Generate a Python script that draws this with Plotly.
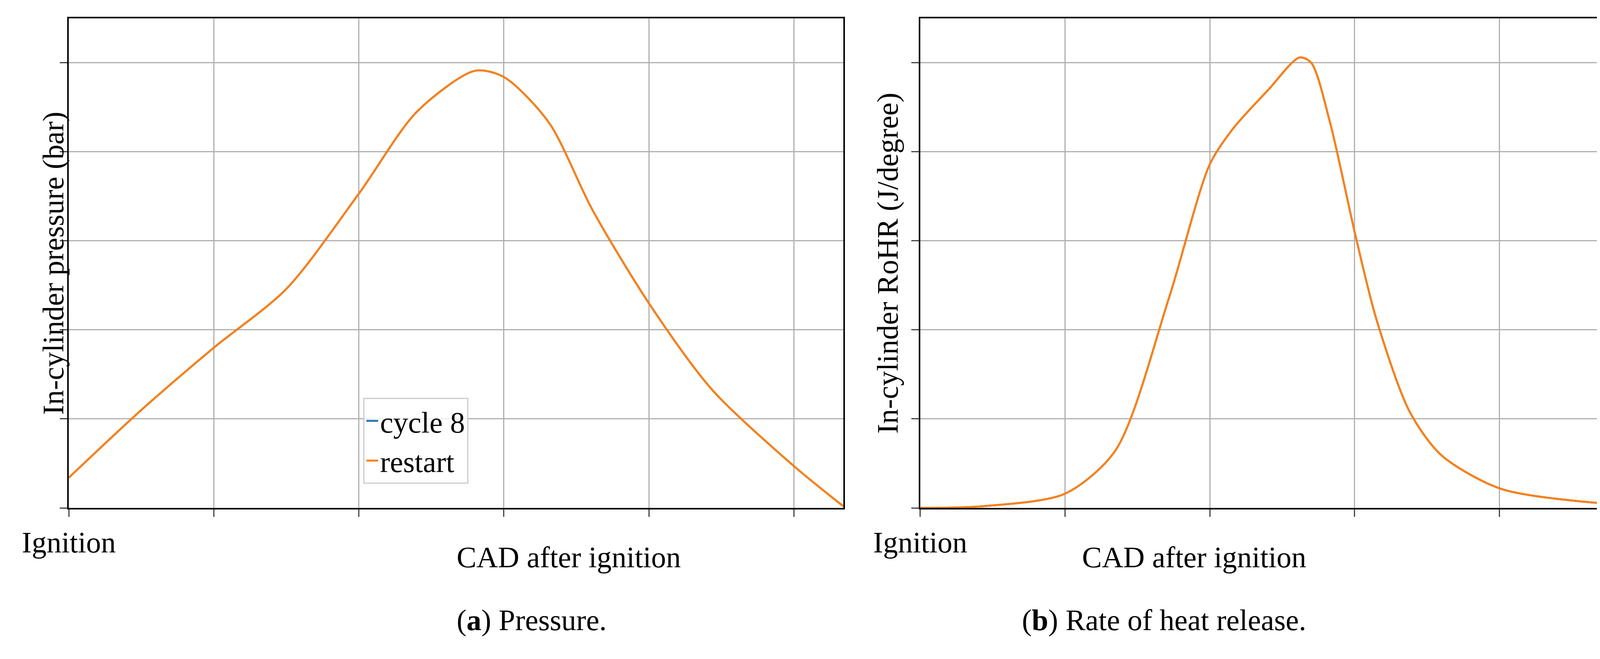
import plotly.graph_objects as go

# Pressure panel, x in tick units after ignition
p_cad = [0, 0.5, 1, 1.5, 2, 2.4, 2.8, 3, 3.31, 3.61, 4, 4.44, 5, 5.34]
p_val = [0.34, 1.1, 1.8, 2.46, 3.53, 4.45, 4.91, 4.84, 4.33, 3.35, 2.30, 1.32, 0.47, 0.02]

# Rate of heat release panel
r_cad = [0, 0.44, 1, 1.35, 1.72, 2, 2.16, 2.4, 2.62, 2.7, 2.83, 3, 3.15, 3.38, 3.6, 4, 4.58, 5.33]
r_val = [0, 0.02, 0.16, 0.65, 2.37, 3.86, 4.26, 4.69, 5.06, 5.0, 4.33, 3.1, 2.12, 1.08, 0.59, 0.22, 0.07, 0.01]

tick_pos = [0, 1, 2, 3, 4, 5]
tick_text = ["Ignition", "", "", "", "", ""]
y_ticks = [0, 1, 2, 3, 4, 5]

orange = "#ff7f0e"
blue = "#1f77b4"
font = "Liberation Serif"
fs = 76

fig = go.Figure()
# cycle 8 hidden under restart
fig.add_trace(go.Scatter(x=p_cad, y=p_val, mode="lines", name="cycle 8",
                         line=dict(color=blue, width=5, shape="spline", smoothing=0.8), xaxis="x", yaxis="y"))
fig.add_trace(go.Scatter(x=p_cad, y=p_val, mode="lines", name="restart",
                         line=dict(color=orange, width=5, shape="spline", smoothing=0.8), xaxis="x", yaxis="y"))
fig.add_trace(go.Scatter(x=r_cad, y=r_val, mode="lines", showlegend=False,
                         line=dict(color=blue, width=5, shape="spline", smoothing=0.8), xaxis="x2", yaxis="y2"))
fig.add_trace(go.Scatter(x=r_cad, y=r_val, mode="lines", showlegend=False,
                         line=dict(color=orange, width=5, shape="spline", smoothing=0.8), xaxis="x2", yaxis="y2"))

xax = dict(range=[0, 5.34], tickvals=tick_pos, ticktext=tick_text, ticks="outside", ticklen=19,
           tickwidth=3, showgrid=True, gridcolor="#b0b0b0", gridwidth=3, zeroline=False,
           showline=True, linecolor="black", linewidth=4, mirror=True,
           tickfont=dict(size=fs, color="black"))
yax = dict(range=[0, 5.5], tickvals=y_ticks, ticktext=[""] * 6, ticks="outside", ticklen=19,
           tickwidth=3, showgrid=True, gridcolor="#b0b0b0", gridwidth=3, zeroline=False,
           showline=True, linecolor="black", linewidth=4, mirror=True)

fig.update_layout(
    width=4380, height=1688,
    margin=dict(l=0, r=0, t=0, b=0, autoexpand=False),
    plot_bgcolor="white", paper_bgcolor="white",
    font=dict(family=font, size=fs, color="black"),
    xaxis=dict(xax, domain=[0.0384, 0.491], anchor="y"),
    yaxis=dict(yax, domain=[0.234, 0.977], anchor="x"),
    xaxis2=dict(xax, domain=[0.536, 0.988], anchor="y2"),
    yaxis2=dict(yax, domain=[0.234, 0.977], anchor="x2"),
    legend=dict(x=0.2105, y=0.401, xanchor="left", yanchor="top",
                bordercolor="#cccccc", borderwidth=3, bgcolor="rgba(255,255,255,0.8)",
                font=dict(size=fs), tracegroupgap=0),
    annotations=[
        dict(text="CAD after ignition", x=0.2647, y=1 - 1463 / 1688, xref="paper", yref="paper",
             showarrow=False, font=dict(size=fs)),
        dict(text="CAD after ignition", x=0.762, y=1 - 1463 / 1688, xref="paper", yref="paper",
             showarrow=False, font=dict(size=fs)),
        dict(text="(<b>a</b>) Pressure.", x=0.2647, y=1 - 1625 / 1688, xref="paper", yref="paper",
             showarrow=False, font=dict(size=fs)),
        dict(text="(<b>b</b>) Rate of heat release.", x=0.762, y=1 - 1625 / 1688, xref="paper",
             yref="paper", showarrow=False, font=dict(size=fs)),
        dict(text="In-cylinder pressure (bar)", x=84 / 4380, y=0.6055, xref="paper",
             yref="paper", showarrow=False, textangle=-90, font=dict(size=fs)),
        dict(text="In-cylinder RoHR (J/degree)", x=2265 / 4380, y=0.6055, xref="paper",
             yref="paper", showarrow=False, textangle=-90, font=dict(size=fs)),
    ],
)

fig.write_html("out.html")
